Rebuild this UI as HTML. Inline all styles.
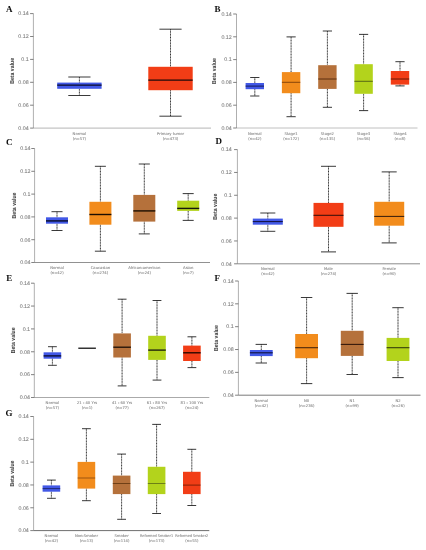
<!DOCTYPE html>
<html><head><meta charset="utf-8"><title>Figure</title>
<style>
html,body{margin:0;padding:0;background:#fff;}
body{width:426px;height:550px;overflow:hidden;}
svg{display:block;}
text{text-rendering:geometricPrecision;}
.pl{font-family:"Liberation Serif",serif;font-weight:bold;font-size:9px;fill:#111;}
.tk{font-family:"Liberation Sans",sans-serif;font-size:5.3px;fill:#828282;stroke:#828282;stroke-width:0.1;text-anchor:end;}
.yl{font-family:"Liberation Sans",sans-serif;font-weight:bold;font-size:5.8px;fill:#383838;text-anchor:middle;}
.cl{font-family:"DejaVu Sans","Liberation Sans",sans-serif;font-size:3.75px;fill:#909090;stroke:#909090;stroke-width:0.12;text-anchor:middle;}
.ax{stroke:#787878;stroke-width:0.6;fill:none;}
.tm{stroke:#4c4c4c;stroke-width:0.7;fill:none;}
.xa{stroke:#bdbdbd;stroke-width:0.9;fill:none;}
.wk{stroke:#222;stroke-width:0.9;fill:none;}
.st{stroke:#111;stroke-width:0.85;fill:none;stroke-dasharray:1.05 0.5;}
</style></head><body>
<svg width="426" height="550" viewBox="0 0 426 550">
<defs><filter id="b" x="-5%" y="-5%" width="110%" height="110%"><feGaussianBlur stdDeviation="0.35"/></filter></defs>
<rect width="426" height="550" fill="#fff"/>
<g filter="url(#b)">
<g>
<text class="pl" x="6.1" y="11.9">A</text>
<path d="M33.4 128.1H211" stroke="#c4c4c4" stroke-width="1.1" fill="none"/>
<path class="ax" d="M33.4 13.6V128.1"/>
<path class="tm" d="M30.1 13.6H33.4"/>
<text class="tk" x="28.6" y="15.4">0.14</text>
<path class="tm" d="M30.1 36.5H33.4"/>
<text class="tk" x="28.6" y="38.3">0.12</text>
<path class="tm" d="M30.1 59.4H33.4"/>
<text class="tk" x="28.6" y="61.2">0.1</text>
<path class="tm" d="M30.1 82.3H33.4"/>
<text class="tk" x="28.6" y="84.1">0.08</text>
<path class="tm" d="M30.1 105.2H33.4"/>
<text class="tk" x="28.6" y="107">0.06</text>
<path class="tm" d="M30.1 128.1H33.4"/>
<text class="tk" x="28.6" y="129.9">0.04</text>
<text class="yl" transform="translate(13.5 70.85) rotate(-90)" textLength="26" lengthAdjust="spacingAndGlyphs">Beta value</text>
<path class="st" d="M79.4 77V82.6M79.4 88.8V95.5"/>
<path class="wk" d="M68.3 77H90.5M68.3 95.5H90.5"/>
<rect x="57.2" y="82.6" width="44.4" height="6.2" fill="#4359e6"/>
<path d="M57.2 85.2H101.6" stroke="#080a2a" stroke-width="1.3" fill="none"/>
<text class="cl" x="79.4" y="134.7">Normal</text>
<text class="cl" x="79.4" y="139.6">(n=57)</text>
<path class="st" d="M170.5 29.2V66.8M170.5 90.2V116.2"/>
<path class="wk" d="M159.4 29.2H181.6M159.4 116.2H181.6"/>
<rect x="148.3" y="66.8" width="44.4" height="23.4" fill="#f23c14"/>
<path d="M148.3 80.1H192.7" stroke="#1c0804" stroke-width="1.3" fill="none"/>
<text class="cl" x="170.5" y="134.7">Primary tumor</text>
<text class="cl" x="170.5" y="139.6">(n=473)</text>
</g>
<g>
<text class="pl" x="214.6" y="11.9">B</text>
<path d="M236.5 128H417.5" stroke="#c0c0c0" stroke-width="1.0" fill="none"/>
<path class="ax" d="M236.5 14V128"/>
<path class="tm" d="M233.2 14H236.5"/>
<text class="tk" x="231.7" y="15.8">0.14</text>
<path class="tm" d="M233.2 36.8H236.5"/>
<text class="tk" x="231.7" y="38.6">0.12</text>
<path class="tm" d="M233.2 59.6H236.5"/>
<text class="tk" x="231.7" y="61.4">0.1</text>
<path class="tm" d="M233.2 82.4H236.5"/>
<text class="tk" x="231.7" y="84.2">0.08</text>
<path class="tm" d="M233.2 105.2H236.5"/>
<text class="tk" x="231.7" y="107">0.06</text>
<path class="tm" d="M233.2 128H236.5"/>
<text class="tk" x="231.7" y="129.8">0.04</text>
<text class="yl" transform="translate(215.9 71) rotate(-90)" textLength="26" lengthAdjust="spacingAndGlyphs">Beta value</text>
<path class="st" d="M254.8 77.5V83M254.8 89.2V96"/>
<path class="wk" d="M250.2 77.5H259.4M250.2 96H259.4"/>
<rect x="245.6" y="83" width="18.4" height="6.2" fill="#4359e6"/>
<path d="M245.6 86.1H264" stroke="#10144a" stroke-width="0.9" fill="none"/>
<text class="cl" x="254.8" y="134.6">Normal</text>
<text class="cl" x="254.8" y="139.5">(n=42)</text>
<path class="st" d="M291.1 36.9V72.1M291.1 93.2V116.7"/>
<path class="wk" d="M286.5 36.9H295.7M286.5 116.7H295.7"/>
<rect x="281.9" y="72.1" width="18.4" height="21.1" fill="#f28c1c"/>
<path d="M281.9 82.3H300.3" stroke="#7a3e08" stroke-width="0.9" fill="none"/>
<text class="cl" x="291.1" y="134.6">Stage1</text>
<text class="cl" x="291.1" y="139.5">(n=172)</text>
<path class="st" d="M327.4 31V65.2M327.4 88.9V107.3"/>
<path class="wk" d="M322.8 31H332M322.8 107.3H332"/>
<rect x="318.2" y="65.2" width="18.4" height="23.7" fill="#b5713a"/>
<path d="M318.2 79H336.6" stroke="#52290c" stroke-width="0.9" fill="none"/>
<text class="cl" x="327.4" y="134.6">Stage2</text>
<text class="cl" x="327.4" y="139.5">(n=135)</text>
<path class="st" d="M363.6 34.4V64.2M363.6 93.8V110.6"/>
<path class="wk" d="M359 34.4H368.2M359 110.6H368.2"/>
<rect x="354.4" y="64.2" width="18.4" height="29.6" fill="#b3d31d"/>
<path d="M354.4 81.3H372.8" stroke="#4f5c10" stroke-width="0.9" fill="none"/>
<text class="cl" x="363.6" y="134.6">Stage3</text>
<text class="cl" x="363.6" y="139.5">(n=56)</text>
<path class="st" d="M400 61.7V71M400 84.6V85.9"/>
<path class="wk" d="M395.4 61.7H404.6M395.4 85.9H404.6"/>
<rect x="390.8" y="71" width="18.4" height="13.6" fill="#f23c14"/>
<path d="M390.8 79H409.2" stroke="#561206" stroke-width="0.9" fill="none"/>
<text class="cl" x="400" y="134.6">Stage4</text>
<text class="cl" x="400" y="139.5">(n=8)</text>
</g>
<g>
<text class="pl" x="5.9" y="144.7">C</text>
<path d="M34.6 262.5H210" stroke="#858585" stroke-width="0.9" fill="none"/>
<path class="ax" d="M34.6 148.5V262.5"/>
<path class="tm" d="M31.3 148.5H34.6"/>
<text class="tk" x="30.5" y="150.3">0.14</text>
<path class="tm" d="M31.3 171.3H34.6"/>
<text class="tk" x="30.5" y="173.1">0.12</text>
<path class="tm" d="M31.3 194.1H34.6"/>
<text class="tk" x="30.5" y="195.9">0.1</text>
<path class="tm" d="M31.3 216.9H34.6"/>
<text class="tk" x="30.5" y="218.7">0.08</text>
<path class="tm" d="M31.3 239.7H34.6"/>
<text class="tk" x="30.5" y="241.5">0.06</text>
<path class="tm" d="M31.3 262.5H34.6"/>
<text class="tk" x="30.5" y="264.3">0.04</text>
<text class="yl" transform="translate(15.6 205.5) rotate(-90)" textLength="26" lengthAdjust="spacingAndGlyphs">Beta value</text>
<path class="st" d="M57 211.7V217.3M57 223.7V230.5"/>
<path class="wk" d="M51.5 211.7H62.5M51.5 230.5H62.5"/>
<rect x="46" y="217.3" width="22" height="6.4" fill="#4359e6"/>
<path d="M46 220.9H68" stroke="#080a2a" stroke-width="1.4" fill="none"/>
<text class="cl" x="57" y="269.1">Normal</text>
<text class="cl" x="57" y="274">(n=42)</text>
<path class="st" d="M100.4 166.3V201.8M100.4 224.7V251.2"/>
<path class="wk" d="M94.9 166.3H105.9M94.9 251.2H105.9"/>
<rect x="89.4" y="201.8" width="22" height="22.9" fill="#f28c1c"/>
<path d="M89.4 214.5H111.4" stroke="#1c0e04" stroke-width="1.4" fill="none"/>
<text class="cl" x="100.4" y="269.1">Caucasian</text>
<text class="cl" x="100.4" y="274">(n=274)</text>
<path class="st" d="M144.3 164V194.9M144.3 221.6V233.9"/>
<path class="wk" d="M138.8 164H149.8M138.8 233.9H149.8"/>
<rect x="133.3" y="194.9" width="22" height="26.7" fill="#b5713a"/>
<path d="M133.3 210.9H155.3" stroke="#1c0e04" stroke-width="1.4" fill="none"/>
<text class="cl" x="144.3" y="269.1">African-american</text>
<text class="cl" x="144.3" y="274">(n=24)</text>
<path class="st" d="M188.2 193.6V200.7M188.2 210.9V220.4"/>
<path class="wk" d="M182.7 193.6H193.7M182.7 220.4H193.7"/>
<rect x="177.2" y="200.7" width="22" height="10.2" fill="#b3d31d"/>
<path d="M177.2 208.4H199.2" stroke="#14180a" stroke-width="1.4" fill="none"/>
<text class="cl" x="188.2" y="269.1">Asian</text>
<text class="cl" x="188.2" y="274">(n=7)</text>
</g>
<g>
<text class="pl" x="215.5" y="144.1">D</text>
<path d="M237.4 263.8H420" stroke="#5a5a5a" stroke-width="0.7" fill="none"/>
<path class="ax" d="M237.4 149.6V263.8"/>
<path class="tm" d="M234.1 149.6H237.4"/>
<text class="tk" x="231.6" y="151.4">0.14</text>
<path class="tm" d="M234.1 172.44H237.4"/>
<text class="tk" x="231.6" y="174.24">0.12</text>
<path class="tm" d="M234.1 195.28H237.4"/>
<text class="tk" x="231.6" y="197.08">0.1</text>
<path class="tm" d="M234.1 218.12H237.4"/>
<text class="tk" x="231.6" y="219.92">0.08</text>
<path class="tm" d="M234.1 240.96H237.4"/>
<text class="tk" x="231.6" y="242.76">0.06</text>
<path class="tm" d="M234.1 263.8H237.4"/>
<text class="tk" x="231.6" y="265.6">0.04</text>
<text class="yl" transform="translate(217.3 206.7) rotate(-90)" textLength="26" lengthAdjust="spacingAndGlyphs">Beta value</text>
<path class="st" d="M267.8 213V218.6M267.8 224.7V231.3"/>
<path class="wk" d="M260.3 213H275.3M260.3 231.3H275.3"/>
<rect x="252.8" y="218.6" width="30" height="6.1" fill="#4359e6"/>
<path d="M252.8 221.6H282.8" stroke="#080a2a" stroke-width="0.9" fill="none"/>
<text class="cl" x="267.8" y="270.4">Normal</text>
<text class="cl" x="267.8" y="275.3">(n=42)</text>
<path class="st" d="M328.5 166.3V202.9M328.5 226.8V251.9"/>
<path class="wk" d="M321 166.3H336M321 251.9H336"/>
<rect x="313.5" y="202.9" width="30" height="23.9" fill="#f23c14"/>
<path d="M313.5 215.3H343.5" stroke="#1c0804" stroke-width="0.9" fill="none"/>
<text class="cl" x="328.5" y="270.4">Male</text>
<text class="cl" x="328.5" y="275.3">(n=274)</text>
<path class="st" d="M389.2 171.9V201.8M389.2 225.7V242.9"/>
<path class="wk" d="M381.7 171.9H396.7M381.7 242.9H396.7"/>
<rect x="374.2" y="201.8" width="30" height="23.9" fill="#f28c1c"/>
<path d="M374.2 216.4H404.2" stroke="#1c0e04" stroke-width="0.9" fill="none"/>
<text class="cl" x="389.2" y="270.4">Female</text>
<text class="cl" x="389.2" y="275.3">(n=90)</text>
</g>
<g>
<text class="pl" x="6.2" y="281">E</text>
<path d="M34.3 397.5H209.3" stroke="#a0a0a0" stroke-width="0.9" fill="none"/>
<path class="ax" d="M34.3 283.2V397.5"/>
<path class="tm" d="M31 283.2H34.3"/>
<text class="tk" x="30" y="285">0.14</text>
<path class="tm" d="M31 306.06H34.3"/>
<text class="tk" x="30" y="307.86">0.12</text>
<path class="tm" d="M31 328.92H34.3"/>
<text class="tk" x="30" y="330.72">0.1</text>
<path class="tm" d="M31 351.78H34.3"/>
<text class="tk" x="30" y="353.58">0.08</text>
<path class="tm" d="M31 374.64H34.3"/>
<text class="tk" x="30" y="376.44">0.06</text>
<path class="tm" d="M31 397.5H34.3"/>
<text class="tk" x="30" y="399.3">0.04</text>
<text class="yl" transform="translate(15.3 340.35) rotate(-90)" textLength="26" lengthAdjust="spacingAndGlyphs">Beta value</text>
<path class="st" d="M52.4 346.7V352.3M52.4 358.7V365.3"/>
<path class="wk" d="M48 346.7H56.8M48 365.3H56.8"/>
<rect x="43.6" y="352.3" width="17.6" height="6.4" fill="#4359e6"/>
<path d="M43.6 355.9H61.2" stroke="#080a2a" stroke-width="1.3" fill="none"/>
<text class="cl" x="52.4" y="404.1">Normal</text>
<text class="cl" x="52.4" y="409">(n=57)</text>
<path d="M78.3 348.2H95.9" stroke="#050505" stroke-width="1.2" fill="none"/>
<text class="cl" x="87.1" y="404.1">21 - 40 Yrs</text>
<text class="cl" x="87.1" y="409">(n=1)</text>
<path class="st" d="M122.1 299.2V333.4M122.1 357.5V385.9"/>
<path class="wk" d="M117.7 299.2H126.5M117.7 385.9H126.5"/>
<rect x="113.3" y="333.4" width="17.6" height="24.1" fill="#b5713a"/>
<path d="M113.3 347.2H130.9" stroke="#1c0e04" stroke-width="1.3" fill="none"/>
<text class="cl" x="122.1" y="404.1">41 - 60 Yrs</text>
<text class="cl" x="122.1" y="409">(n=77)</text>
<path class="st" d="M157 300.5V335.8M157 359.9V380.1"/>
<path class="wk" d="M152.6 300.5H161.4M152.6 380.1H161.4"/>
<rect x="148.2" y="335.8" width="17.6" height="24.1" fill="#b3d31d"/>
<path d="M148.2 350.1H165.8" stroke="#14180a" stroke-width="1.3" fill="none"/>
<text class="cl" x="157" y="404.1">61 - 80 Yrs</text>
<text class="cl" x="157" y="409">(n=267)</text>
<path class="st" d="M191.9 336.8V345.6M191.9 361V367.6"/>
<path class="wk" d="M187.5 336.8H196.3M187.5 367.6H196.3"/>
<rect x="183.1" y="345.6" width="17.6" height="15.4" fill="#f23c14"/>
<path d="M183.1 352.8H200.7" stroke="#1c0804" stroke-width="1.3" fill="none"/>
<text class="cl" x="191.9" y="404.1">81 - 100 Yrs</text>
<text class="cl" x="191.9" y="409">(n=24)</text>
</g>
<g>
<text class="pl" x="214.5" y="280.6">F</text>
<path d="M238.4 395.2H420.5" stroke="#5a5a5a" stroke-width="0.8" fill="none"/>
<path class="ax" d="M238.4 281V395.2"/>
<path class="tm" d="M235.1 281H238.4"/>
<text class="tk" x="233.6" y="282.8">0.14</text>
<path class="tm" d="M235.1 303.84H238.4"/>
<text class="tk" x="233.6" y="305.64">0.12</text>
<path class="tm" d="M235.1 326.68H238.4"/>
<text class="tk" x="233.6" y="328.48">0.1</text>
<path class="tm" d="M235.1 349.52H238.4"/>
<text class="tk" x="233.6" y="351.32">0.08</text>
<path class="tm" d="M235.1 372.36H238.4"/>
<text class="tk" x="233.6" y="374.16">0.06</text>
<path class="tm" d="M235.1 395.2H238.4"/>
<text class="tk" x="233.6" y="397">0.04</text>
<text class="yl" transform="translate(218.2 338.1) rotate(-90)" textLength="26" lengthAdjust="spacingAndGlyphs">Beta value</text>
<path class="st" d="M261.3 344.4V350M261.3 356.1V363"/>
<path class="wk" d="M255.6 344.4H267M255.6 363H267"/>
<rect x="249.9" y="350" width="22.8" height="6.1" fill="#4359e6"/>
<path d="M249.9 352.8H272.7" stroke="#0c0f3a" stroke-width="1.1" fill="none"/>
<text class="cl" x="261.3" y="401.8">Normal</text>
<text class="cl" x="261.3" y="406.7">(n=42)</text>
<path class="st" d="M306.6 297.5V334M306.6 358.2V383.6"/>
<path class="wk" d="M300.9 297.5H312.3M300.9 383.6H312.3"/>
<rect x="295.2" y="334" width="22.8" height="24.2" fill="#f28c1c"/>
<path d="M295.2 347.7H318" stroke="#4a2505" stroke-width="1.1" fill="none"/>
<text class="cl" x="306.6" y="401.8">N0</text>
<text class="cl" x="306.6" y="406.7">(n=236)</text>
<path class="st" d="M352.2 293.4V330.8M352.2 355.9V374.5"/>
<path class="wk" d="M346.5 293.4H357.9M346.5 374.5H357.9"/>
<rect x="340.8" y="330.8" width="22.8" height="25.1" fill="#b5713a"/>
<path d="M340.8 344.4H363.6" stroke="#351a08" stroke-width="1.1" fill="none"/>
<text class="cl" x="352.2" y="401.8">N1</text>
<text class="cl" x="352.2" y="406.7">(n=99)</text>
<path class="st" d="M398 307.7V337.9M398 361V377.6"/>
<path class="wk" d="M392.3 307.7H403.7M392.3 377.6H403.7"/>
<rect x="386.6" y="337.9" width="22.8" height="23.1" fill="#b3d31d"/>
<path d="M386.6 347.7H409.4" stroke="#333c0a" stroke-width="1.1" fill="none"/>
<text class="cl" x="398" y="401.8">N2</text>
<text class="cl" x="398" y="406.7">(n=26)</text>
</g>
<g>
<text class="pl" x="5.6" y="416.2">G</text>
<path d="M33.6 530.6H209.3" stroke="#4a4a4a" stroke-width="0.8" fill="none"/>
<path class="ax" d="M33.6 416.5V530.6"/>
<path class="tm" d="M30.3 416.5H33.6"/>
<text class="tk" x="28.8" y="418.3">0.14</text>
<path class="tm" d="M30.3 439.32H33.6"/>
<text class="tk" x="28.8" y="441.12">0.12</text>
<path class="tm" d="M30.3 462.14H33.6"/>
<text class="tk" x="28.8" y="463.94">0.1</text>
<path class="tm" d="M30.3 484.96H33.6"/>
<text class="tk" x="28.8" y="486.76">0.08</text>
<path class="tm" d="M30.3 507.78H33.6"/>
<text class="tk" x="28.8" y="509.58">0.06</text>
<path class="tm" d="M30.3 530.6H33.6"/>
<text class="tk" x="28.8" y="532.4">0.04</text>
<text class="yl" transform="translate(13.8 473.55) rotate(-90)" textLength="26" lengthAdjust="spacingAndGlyphs">Beta value</text>
<path class="st" d="M51.4 480.1V485.4M51.4 491.7V498.3"/>
<path class="wk" d="M47 480.1H55.8M47 498.3H55.8"/>
<rect x="42.6" y="485.4" width="17.6" height="6.3" fill="#4359e6"/>
<path d="M42.6 488.6H60.2" stroke="#10144a" stroke-width="0.7" fill="none"/>
<text class="cl" x="51.4" y="537.2">Normal</text>
<text class="cl" x="51.4" y="542.1">(n=42)</text>
<path class="st" d="M86.4 428.7V461.9M86.4 488.6V500.7"/>
<path class="wk" d="M82 428.7H90.8M82 500.7H90.8"/>
<rect x="77.6" y="461.9" width="17.6" height="26.7" fill="#f28c1c"/>
<path d="M77.6 478H95.2" stroke="#7a3e08" stroke-width="0.7" fill="none"/>
<text class="cl" x="86.4" y="537.2">Non-Smoker</text>
<text class="cl" x="86.4" y="542.1">(n=13)</text>
<path class="st" d="M121.6 454.1V475.6M121.6 494.1V519.3"/>
<path class="wk" d="M117.2 454.1H126M117.2 519.3H126"/>
<rect x="112.8" y="475.6" width="17.6" height="18.5" fill="#b5713a"/>
<path d="M112.8 483.5H130.4" stroke="#52290c" stroke-width="0.7" fill="none"/>
<text class="cl" x="121.6" y="537.2">Smoker</text>
<text class="cl" x="121.6" y="542.1">(n=114)</text>
<path class="st" d="M156.6 424.4V466.8M156.6 494.1V513.5"/>
<path class="wk" d="M152.2 424.4H161M152.2 513.5H161"/>
<rect x="147.8" y="466.8" width="17.6" height="27.3" fill="#b3d31d"/>
<path d="M147.8 483.5H165.4" stroke="#4f5c10" stroke-width="0.7" fill="none"/>
<text class="cl" x="156.6" y="537.2" textLength="33" lengthAdjust="spacingAndGlyphs">Reformed Smoker1</text>
<text class="cl" x="156.6" y="542.1">(n=173)</text>
<path class="st" d="M191.8 449.3V471.8M191.8 494.1V505.5"/>
<path class="wk" d="M187.4 449.3H196.2M187.4 505.5H196.2"/>
<rect x="183" y="471.8" width="17.6" height="22.3" fill="#f23c14"/>
<path d="M183 485.1H200.6" stroke="#561206" stroke-width="0.7" fill="none"/>
<text class="cl" x="191.8" y="537.2" textLength="33" lengthAdjust="spacingAndGlyphs">Reformed Smoker2</text>
<text class="cl" x="191.8" y="542.1">(n=55)</text>
</g>
</g></svg></body></html>
